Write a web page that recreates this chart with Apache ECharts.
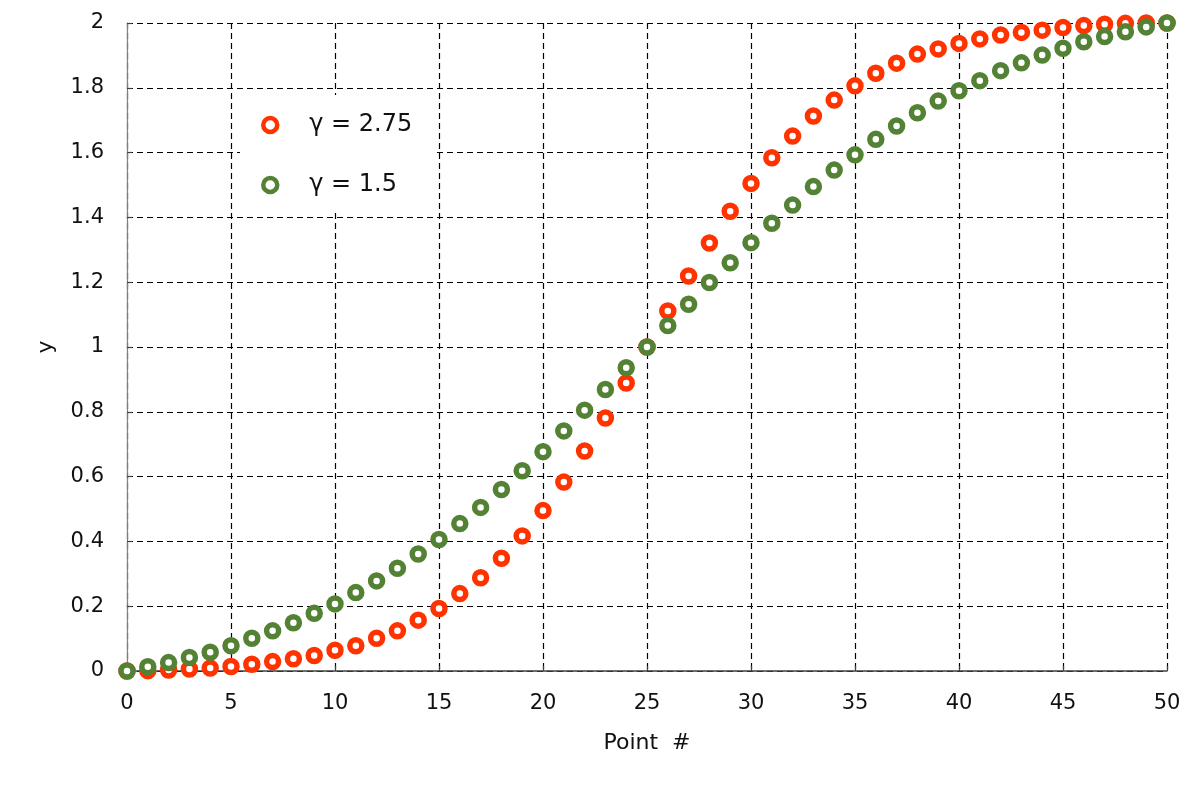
<!DOCTYPE html>
<html>
<head>
<meta charset="utf-8">
<script src="https://cdn.jsdelivr.net/npm/echarts@6/dist/echarts.min.js"></script>
<style>
  html, body { margin: 0; padding: 0; background: #fff; }
  #chart { width: 1200px; height: 786px; }
</style>
</head>
<body>
<div id="chart"></div>
<script>
const pointNums = [0, 1, 2, 3, 4, 5, 6, 7, 8, 9, 10, 11, 12, 13, 14, 15, 16, 17, 18, 19, 20,
  21, 22, 23, 24, 25, 26, 27, 28, 29, 30, 31, 32, 33, 34, 35, 36, 37, 38, 39, 40,
  41, 42, 43, 44, 45, 46, 47, 48, 49, 50];

// y = 2.75
const gamma275 = [0, 0.001, 0.003, 0.006, 0.009, 0.014, 0.021, 0.029, 0.038, 0.048,
  0.064, 0.078, 0.101, 0.124, 0.157, 0.193, 0.239, 0.288, 0.348, 0.417,
  0.495, 0.583, 0.679, 0.781, 0.889, 1.0, 1.111, 1.219, 1.321, 1.419,
  1.505, 1.584, 1.651, 1.713, 1.762, 1.806, 1.845, 1.876, 1.904, 1.920,
  1.937, 1.951, 1.963, 1.971, 1.978, 1.986, 1.992, 1.996, 1.999, 2.0, 2.0];

// y = 1.5
const gamma15 = [0, 0.013, 0.026, 0.042, 0.058, 0.078, 0.101, 0.124, 0.149, 0.178,
  0.207, 0.242, 0.278, 0.317, 0.361, 0.406, 0.455, 0.505, 0.560, 0.618,
  0.677, 0.741, 0.805, 0.869, 0.936, 1.0, 1.066, 1.132, 1.199, 1.260,
  1.322, 1.382, 1.438, 1.495, 1.546, 1.593, 1.641, 1.682, 1.723, 1.759,
  1.791, 1.822, 1.853, 1.877, 1.901, 1.922, 1.942, 1.958, 1.973, 1.988, 2.0];

const seriesNames = ['γ = 2.75', 'γ = 1.5'];
const seriesColors = ['#ff3300', '#548235'];

const font = '"DejaVu Sans", Verdana, sans-serif';
const gridLine = { show: true, lineStyle: { color: '#000', type: [6, 4], width: 1.2 } };
const tick = { show: true, inside: true, length: 5, lineStyle: { color: '#404040', width: 1.2 } };

const chart = echarts.init(document.getElementById('chart'), null, { renderer: 'canvas' });

const makeSeries = (name, values, color) => ({
  name,
  type: 'scatter',
  clip: false,
  symbol: 'circle',
  symbolSize: 12,
  itemStyle: { color: '#fff', borderColor: color, borderWidth: 5.5, opacity: 1 },
  emphasis: { disabled: true },
  data: values.map((v, i) => [pointNums[i], v])
});

chart.setOption({
  animation: false,
  backgroundColor: '#fff',
  textStyle: { fontFamily: font },
  grid: { left: 127, right: 33, top: 23, bottom: 115 },
  legend: {
    orient: 'vertical',
    left: 240,
    top: 95,
    padding: [16, 22, 13, 21],
    backgroundColor: '#fff',
    itemWidth: 14,
    itemHeight: 14,
    itemGap: 32,
    itemStyle: { borderWidth: 4.5 },
    textStyle: { fontFamily: font, fontSize: 24, color: '#111', lineHeight: 28, padding: [0, 0, 0, 27] },
    data: seriesNames
  },
  xAxis: {
    type: 'value',
    min: 0,
    max: 50,
    interval: 5,
    name: 'Point  #',
    nameLocation: 'middle',
    nameGap: 61,
    nameTextStyle: { fontFamily: font, fontSize: 22, color: '#111' },
    axisLine: { show: true, onZero: false, lineStyle: { color: '#404040', width: 1.5 } },
    axisTick: tick,
    axisLabel: { fontFamily: font, fontSize: 21, color: '#111', margin: 22 },
    splitLine: gridLine
  },
  yAxis: {
    type: 'value',
    min: 0,
    max: 2,
    interval: 0.2,
    name: 'y',
    nameLocation: 'middle',
    nameGap: 70,
    nameTextStyle: { fontFamily: font, fontSize: 22, color: '#111' },
    axisLine: { show: true, onZero: false, lineStyle: { color: '#808080', width: 1.2 } },
    axisTick: tick,
    axisLabel: { fontFamily: font, fontSize: 21, color: '#111', margin: 23 },
    splitLine: gridLine
  },
  series: [
    makeSeries(seriesNames[0], gamma275, seriesColors[0]),
    makeSeries(seriesNames[1], gamma15, seriesColors[1])
  ]
});
</script>
</body>
</html>
